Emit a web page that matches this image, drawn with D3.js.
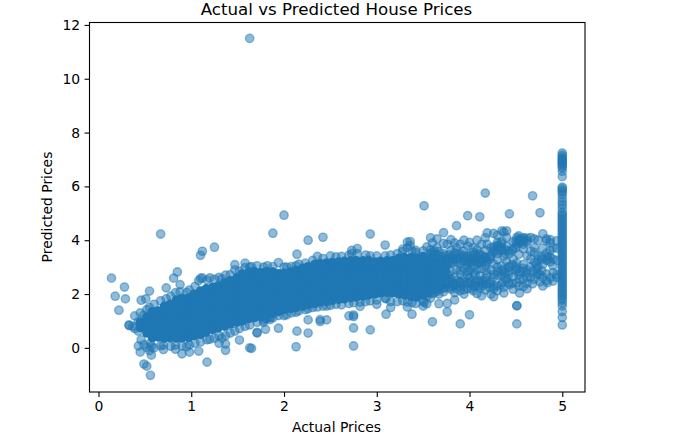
<!DOCTYPE html>
<html>
<head>
<meta charset="utf-8">
<script src="https://cdn.jsdelivr.net/npm/d3@7"></script>
<style>
html, body { margin: 0; padding: 0; background: #fff; }
svg { display: block; }
text { font-family: "DejaVu Sans", sans-serif; fill: #000; }
</style>
</head>
<body>
<svg id="chart" width="679" height="442"></svg>
<script>
// Values: [actual, [predicted, ...]]

// Solid middle of the cloud, where points pile up too thick to tell apart
const denseColumns = [
  [0.45, [0.75, 0.95]],
  [0.52, [0.55, 0.75, 0.95, 1.15]],
  [0.58, [0.38, 0.6, 0.8, 1.0, 1.2, 1.35]],
  [0.64, [0.4, 0.55, 0.78, 0.98, 1.18, 1.38]],
  [0.71, [0.36, 0.58, 0.76, 0.97, 1.2, 1.4, 1.55]],
  [0.77, [0.38, 0.6, 0.8, 1.02, 1.22, 1.42, 1.62]],
  [0.84, [0.36, 0.56, 0.78, 0.99, 1.2, 1.41, 1.6, 1.78]],
  [0.9, [0.37, 0.6, 0.8, 1.0, 1.23, 1.44, 1.63, 1.85]],
  [0.97, [0.38, 0.58, 0.79, 1.02, 1.22, 1.43, 1.64, 1.86]],
  [1.03, [0.45, 0.65, 0.86, 1.07, 1.28, 1.48, 1.7, 1.9, 2.0]],
  [1.1, [0.5, 0.7, 0.9, 1.12, 1.32, 1.53, 1.74, 1.95, 2.12]],
  [1.16, [0.58, 0.8, 1.0, 1.2, 1.42, 1.62, 1.83, 2.03, 2.2]],
  [1.23, [0.68, 0.88, 1.08, 1.3, 1.5, 1.7, 1.92, 2.12, 2.25]],
  [1.29, [0.74, 0.95, 1.15, 1.36, 1.57, 1.78, 1.98, 2.18, 2.3]],
  [1.36, [0.8, 1.0, 1.22, 1.42, 1.63, 1.84, 2.05, 2.25, 2.42]],
  [1.42, [0.88, 1.08, 1.3, 1.5, 1.72, 1.92, 2.12, 2.32, 2.5]],
  [1.49, [0.95, 1.15, 1.36, 1.58, 1.78, 1.98, 2.2, 2.4, 2.6]],
  [1.55, [1.0, 1.2, 1.42, 1.62, 1.84, 2.04, 2.25, 2.46, 2.66, 2.75]],
  [1.62, [1.08, 1.3, 1.5, 1.7, 1.92, 2.12, 2.34, 2.54, 2.72, 2.82]],
  [1.68, [1.12, 1.32, 1.54, 1.74, 1.95, 2.16, 2.36, 2.56, 2.74, 2.84]],
  [1.75, [1.16, 1.36, 1.58, 1.78, 1.98, 2.2, 2.4, 2.6, 2.8]],
  [1.81, [1.22, 1.42, 1.63, 1.84, 2.04, 2.25, 2.46, 2.66, 2.84]],
  [1.88, [1.28, 1.48, 1.7, 1.9, 2.1, 2.3, 2.52, 2.72, 2.82]],
  [1.94, [1.35, 1.55, 1.76, 1.96, 2.16, 2.38, 2.58, 2.76]],
  [2.0, [1.42, 1.62, 1.82, 2.03, 2.24, 2.44, 2.64, 2.78]],
  [2.07, [1.46, 1.66, 1.87, 2.08, 2.28, 2.5, 2.7, 2.82]],
  [2.13, [1.5, 1.7, 1.92, 2.12, 2.33, 2.54, 2.74, 2.88]],
  [2.2, [1.55, 1.76, 1.96, 2.16, 2.38, 2.58, 2.78, 2.96]],
  [2.26, [1.6, 1.8, 2.02, 2.22, 2.42, 2.64, 2.84, 3.02]],
  [2.33, [1.65, 1.86, 2.06, 2.28, 2.48, 2.7, 2.9, 3.1]],
  [2.39, [1.7, 1.9, 2.12, 2.32, 2.54, 2.74, 2.94, 3.14]],
  [2.46, [1.72, 1.94, 2.14, 2.36, 2.56, 2.78, 2.98, 3.16]],
  [2.52, [1.76, 1.98, 2.18, 2.4, 2.6, 2.8, 3.0, 3.18]],
  [2.59, [1.8, 2.0, 2.22, 2.42, 2.64, 2.84, 3.04, 3.2]],
  [2.65, [1.82, 2.04, 2.24, 2.46, 2.66, 2.86, 3.06, 3.22]],
  [2.72, [1.86, 2.06, 2.28, 2.48, 2.7, 2.9, 3.08, 3.24]],
  [2.78, [1.88, 2.1, 2.3, 2.52, 2.72, 2.92, 3.1, 3.24]],
  [2.85, [1.92, 2.12, 2.34, 2.54, 2.76, 2.96, 3.14, 3.24]],
  [2.91, [1.96, 2.16, 2.36, 2.58, 2.78, 2.98, 3.16, 3.26]],
  [2.98, [2.0, 2.2, 2.4, 2.6, 2.82, 3.02, 3.2]],
  [3.04, [2.04, 2.24, 2.44, 2.64, 2.84, 3.04, 3.22]],
  [3.11, [2.06, 2.26, 2.46, 2.68, 2.88, 3.08, 3.24]],
  [3.17, [2.04, 2.24, 2.46, 2.66, 2.86, 3.06, 3.24]],
  [3.24, [2.0, 2.2, 2.42, 2.62, 2.84, 3.04, 3.24, 3.34]],
  [3.3, [1.96, 2.18, 2.38, 2.6, 2.8, 3.0, 3.22, 3.36]],
  [3.37, [1.9, 2.12, 2.32, 2.54, 2.76, 2.96, 3.16, 3.36]],
  [3.43, [1.88, 2.08, 2.3, 2.5, 2.72, 2.92, 3.12, 3.34]],
  [3.5, [1.96, 2.18, 2.38, 2.6, 2.8, 3.02, 3.22, 3.4]],
  [3.56, [2.04, 2.26, 2.46, 2.66, 2.88, 3.08, 3.3]],
  [3.62, [2.22, 2.42, 2.6, 2.8, 3.0, 3.2]],
  [3.68, [2.48, 2.72, 2.92, 3.12]],
  [3.74, [2.62, 2.85, 3.02]]
];

// Loose points round the cloud and out towards actual = 5
const looseColumns = [
  [0.14, [2.59]], [0.18, [1.92]], [0.22, [1.4]], [0.28, [2.26]], [0.29, [1.82]],
  [0.33, [0.83, 0.85]], [0.37, [0.8]], [0.39, [1.19, 0.72]], [0.43, [0.07, 0.98, 0.62]],
  [0.45, [-0.16, 1.3]], [0.46, [1.77, 0.3]], [0.49, [-0.6, 0.12, 1.22]], [0.51, [1.82]],
  [0.52, [-0.68, 0.02, 1.42]], [0.55, [2.11, -0.1, 1.5]], [0.56, [-1.02, 0.18]],
  [0.57, [-0.27, 0.05]], [0.6, [1.62, 0.0]], [0.67, [4.23, 1.75, 0.08]], [0.7, [-0.06, 0.1]],
  [0.73, [2.23, 1.82]], [0.78, [1.92, 0.06]], [0.81, [2.59]], [0.83, [-0.05, 2.05, 0.1]],
  [0.85, [2.82]], [0.88, [2.35, 2.08]], [0.9, [-0.22, 0.08]], [0.95, [2.06, 0.04]],
  [0.98, [-0.16, 0.1, 2.15]], [1.04, [2.28, 0.18]], [1.08, [-0.12, 2.5]], [1.1, [3.44, 0.22, 2.58]],
  [1.12, [3.59, 2.6]], [1.17, [-0.53, 0.3, 2.52]], [1.2, [2.6, 0.32]], [1.25, [3.74, 0.36, 2.55]],
  [1.3, [0.17, 2.62, 0.45]], [1.33, [0.36, 2.56]], [1.37, [0.14, -0.09, 0.45, 2.7]],
  [1.42, [0.55, 2.72]], [1.47, [3.09, 0.62, 2.9]], [1.52, [0.29, 0.72, 2.85]], [1.58, [3.15, 2.98, 0.8]],
  [1.63, [0.0, 0.85, 3.0]], [1.65, [-0.02, 3.02]], [1.71, [0.55, 0.58, 0.95, 3.05]],
  [1.78, [1.02, 3.0, 0.95]], [1.8, [0.69, 1.08]], [1.82, [1.1, 3.05]], [1.85, [1.13, 1.05]],
  [1.88, [4.26, 3.02, 1.12]], [1.94, [0.73, 3.17, 1.2]], [2.0, [4.93, 3.0, 1.2]], [2.03, [1.23, 3.0]],
  [2.08, [1.3, 3.02]], [2.13, [0.04, 1.32, 3.05]], [2.14, [3.48, 0.62]], [2.16, [3.11, 1.38]],
  [2.23, [1.42, 3.15]], [2.26, [4.0, 0.55, 1.04, 1.45]], [2.31, [1.5, 3.25]], [2.36, [3.4, 1.52]],
  [2.39, [0.98, 1.05]], [2.42, [4.11, 1.55, 3.32]], [2.46, [1.04, 1.55]], [2.5, [3.42, 1.58]],
  [2.56, [1.62, 3.38]], [2.62, [1.6, 3.4]], [2.7, [1.19, 1.65, 3.44]], [2.73, [3.62, 3.5]],
  [2.75, [0.07, 0.74, 1.16, 1.22, 1.68]], [2.79, [3.69, 3.5]], [2.82, [1.54, 1.7]], [2.88, [1.72, 3.45]],
  [2.93, [4.23, 0.67, 1.75, 3.42]], [3.0, [1.62, 1.78, 3.42]], [3.09, [3.82, 1.85, 3.42]],
  [3.1, [1.25, 1.82]], [3.15, [1.5, 1.72, 3.45]], [3.22, [1.72, 3.5]], [3.28, [3.67, 1.75, 3.58]],
  [3.33, [3.93, 1.52, 1.7, 3.72]], [3.36, [3.95, 3.8]], [3.38, [1.25, 1.68, 3.6]],
  [3.42, [1.65, 3.55, 3.62]], [3.5, [1.55, 1.75, 3.6]], [3.51, [5.28, 1.68]], [3.54, [1.64, 1.92, 3.75]],
  [3.58, [4.09, 1.85, 3.65]], [3.6, [0.97, 2.02, 3.55, 3.9]], [3.65, [4.05, 2.1, 3.72]], [3.67, [1.64, 2.0, 3.58]],
  [3.72, [4.28, 2.25, 2.08, 3.88, 3.5]], [3.76, [1.34, 1.65, 2.4, 2.7, 3.05, 3.3, 3.85]],
  [3.8, [2.18, 2.55, 2.85, 3.15, 3.62, 4.02]], [3.84, [1.78, 2.05, 2.35, 2.62, 3.3, 3.55, 3.9]],
  [3.86, [4.54, 2.9, 3.72]], [3.9, [0.89, 2.12, 2.45, 2.75, 3.1, 3.4, 3.85]],
  [3.94, [2.0, 2.32, 2.58, 2.95, 3.22, 3.6, 4.0]], [3.98, [4.91, 2.2, 2.7, 3.05, 3.42, 3.78]],
  [4.0, [1.23, 2.42, 2.6, 2.88, 3.18, 3.92]], [4.04, [2.12, 2.3, 2.78, 3.02, 3.32, 3.55, 3.72]],
  [4.08, [2.02, 2.5, 2.9, 3.1, 3.4, 3.65, 4.0]], [4.11, [4.87, 2.22, 2.68, 3.18, 3.5]],
  [4.13, [1.93, 2.4, 2.95, 3.28, 3.85]], [4.17, [5.75, 2.15, 2.58, 3.05, 3.35, 3.62, 4.09]],
  [4.19, [4.27, 2.72, 3.2, 3.85]], [4.23, [2.0, 2.45, 2.9, 3.4, 3.72]], [4.26, [1.9, 2.3, 2.62, 3.12, 3.58, 4.25]],
  [4.3, [2.12, 2.82, 3.28, 3.5, 3.82, 4.18]], [4.35, [4.35, 2.42, 2.7, 3.05, 3.62, 3.95]],
  [4.37, [2.04, 2.25, 2.9, 3.4, 4.3]], [4.4, [2.55, 3.2, 3.78, 4.1, 4.35]], [4.43, [4.98, 2.35, 2.85, 3.0, 3.5]],
  [4.47, [2.18, 2.65, 3.3, 3.68, 3.95]], [4.51, [0.89, 1.56, 1.57, 2.42, 2.95, 3.15, 3.85, 4.1]],
  [4.53, [2.3, 2.72, 3.48, 4.16, 4.0]], [4.54, [2.04, 2.55, 3.9]], [4.58, [2.28, 2.85, 3.1, 3.68, 3.85, 4.05]],
  [4.62, [2.19, 2.4, 2.78, 3.42, 3.92, 4.08]], [4.66, [2.62, 3.0, 3.3, 3.6, 4.1]], [4.68, [5.65, 2.38, 2.85]],
  [4.7, [2.55, 3.18, 3.55, 3.72, 4.05]], [4.74, [2.78, 3.02, 3.25, 3.42, 4.0]], [4.76, [5.02, 2.45, 2.72]],
  [4.79, [2.3, 2.62, 3.1, 3.7, 4.24]], [4.83, [2.5, 2.75, 3.25, 3.52, 3.98, 4.05]],
  [4.87, [2.6, 3.2, 3.38, 3.62, 3.9, 4.02]], [4.9, [2.48, 2.8, 3.05, 3.3, 3.72]], [4.94, [2.62, 2.72, 3.25, 3.7, 3.98]]
];

// Darker knots past the solid part, where several points land together
const knotColumns = [
  [3.58, [2.12, 3.42, 3.5]], [3.62, [2.05, 3.38, 3.48, 3.6]], [3.66, [2.18, 2.28, 3.3, 3.45]],
  [3.7, [2.2, 2.34, 2.42, 3.22, 3.3, 3.4]], [3.74, [2.22, 2.4, 3.18, 3.3, 3.42]],
  [3.78, [2.25, 2.38, 2.5, 2.72, 3.2, 3.32, 3.46]], [3.82, [2.28, 2.42, 3.18, 3.3, 3.42]],
  [3.86, [2.2, 2.36, 2.5, 3.2, 3.34, 3.5]], [3.9, [2.28, 2.42, 2.88, 3.24, 3.36, 3.5]],
  [3.94, [2.16, 2.44, 3.3, 3.44]], [3.98, [2.4, 2.85, 3.22, 3.36]], [4.02, [2.2, 2.46, 3.2, 3.3, 3.42]],
  [4.06, [2.3, 2.42, 2.72, 3.22, 3.36, 3.48]], [4.1, [2.32, 2.48, 3.2, 3.3, 3.44]],
  [4.14, [2.3, 2.5, 3.18, 3.32, 3.42]], [4.18, [2.38, 2.5, 2.88, 3.24, 3.36]], [4.22, [2.24, 2.38, 3.3, 3.42]],
  [4.26, [2.2, 2.72, 3.62, 3.75]], [4.3, [2.3, 2.7, 3.0, 3.62, 3.78, 3.92]], [4.34, [2.35, 2.88, 3.62, 3.74, 3.88]],
  [4.38, [2.6, 2.78, 3.5, 3.66]], [4.42, [2.42, 2.72, 3.02, 3.6]], [4.46, [2.4, 3.08, 3.62]],
  [4.5, [2.88, 3.02, 3.72, 3.95]], [4.54, [2.82, 3.92, 4.05]], [4.58, [2.55, 2.95, 3.98, 4.1]],
  [4.62, [2.62, 2.9, 3.98]], [4.72, [2.92, 3.1, 2.72]], [4.78, [2.85, 3.38, 3.3]], [4.84, [2.42, 3.3, 3.4]]
];

// The capped column at actual = 5
const cappedActual = 5;
const cappedPredicted = [
  0.85, 1.13, 1.35, 1.56, 1.67, 1.78, 1.86, 1.95, 2.02, 2.1, 2.18, 2.26, 2.34, 2.42, 2.5, 2.58, 2.66, 2.74, 2.82, 2.9,
  2.98, 3.06, 3.14, 3.22, 3.3, 3.38, 3.46, 3.54, 3.62, 3.7, 3.78, 3.86, 3.94, 4.02, 4.1, 4.18, 4.26, 4.34, 4.42, 4.5,
  4.58, 4.66, 4.74, 4.82, 4.9, 4.98, 5.05, 5.2, 5.32, 5.42, 5.55, 5.69, 5.78, 5.85, 5.92, 5.97, 6.37, 6.56, 6.68, 6.75,
  6.8, 6.86, 6.9, 6.95, 7.0, 7.03, 7.1, 7.16, 7.24
];

const farOutlier = [1.63, 11.5];

const xTicks = [0, 1, 2, 3, 4, 5];
const yTicks = [0, 2, 4, 6, 8, 10, 12];

const width = 679, height = 442;
const margin = { top: 22.5, right: 94, bottom: 50, left: 89.5 };
const blue = "#1f77b4";

const svg = d3.select("#chart");

const x = d3.scaleLinear()
    .domain([-0.097, 5.245])
    .range([margin.left, width - margin.right]);

const y = d3.scaleLinear()
    .domain([-1.64, 12.09])
    .range([height - margin.bottom, margin.top]);

const flatten = cols => cols.flatMap(c => c[1].map(v => [c[0], v]));

const loose = flatten(looseColumns)
    .concat(flatten(knotColumns))
    .concat(cappedPredicted.map(v => [cappedActual, v]))
    .concat([farOutlier]);
const dense = flatten(denseColumns);

// points, same look as plt.scatter(alpha=0.5)
svg.append("g").selectAll("circle")
    .data(loose)
    .enter().append("circle")
    .attr("cx", d => x(d[0]))
    .attr("cy", d => y(d[1]))
    .attr("r", 4.17)
    .attr("fill", blue)
    .attr("fill-opacity", 0.5)
    .attr("stroke", blue)
    .attr("stroke-opacity", 0.5)
    .attr("stroke-width", 1.39);

// the piled up part comes out as flat colour
svg.append("g").selectAll("circle")
    .data(dense)
    .enter().append("circle")
    .attr("cx", d => x(d[0]))
    .attr("cy", d => y(d[1]))
    .attr("r", 4.6)
    .attr("fill", blue);

// Frame
svg.append("rect")
    .attr("x", margin.left)
    .attr("y", margin.top)
    .attr("width", width - margin.left - margin.right)
    .attr("height", height - margin.top - margin.bottom)
    .attr("fill", "none")
    .attr("stroke", "#000")
    .attr("stroke-width", 1.1);

// X-Axis
const xAxis = svg.append("g")
    .attr("transform", `translate(0,${height - margin.bottom})`)
    .call(d3.axisBottom(x).tickValues(xTicks).tickSize(4.9).tickSizeOuter(0).tickPadding(4.5).tickFormat(d3.format("d")));

// Y-Axis
const yAxis = svg.append("g")
    .attr("transform", `translate(${margin.left},0)`)
    .call(d3.axisLeft(y).tickValues(yTicks).tickSize(4.9).tickSizeOuter(0).tickPadding(4.5).tickFormat(d3.format("d")));

[xAxis, yAxis].forEach(a => {
    a.select(".domain").remove();
    a.selectAll("line").attr("stroke", "#000").attr("stroke-width", 1.1);
    a.selectAll("text").style("font-family", '"DejaVu Sans", sans-serif').style("font-size", "13.9px").attr("fill", "#000");
});

// Labels
svg.append("text")
    .attr("x", 336.5)
    .attr("y", 15)
    .attr("text-anchor", "middle")
    .style("font-size", "16.67px")
    .text("Actual vs Predicted House Prices");

svg.append("text")
    .attr("x", 336.5)
    .attr("y", 432)
    .attr("text-anchor", "middle")
    .style("font-size", "13.9px")
    .text("Actual Prices");

svg.append("text")
    .attr("transform", "translate(52,207) rotate(-90)")
    .attr("text-anchor", "middle")
    .style("font-size", "13.9px")
    .text("Predicted Prices");
</script>
</body>
</html>
